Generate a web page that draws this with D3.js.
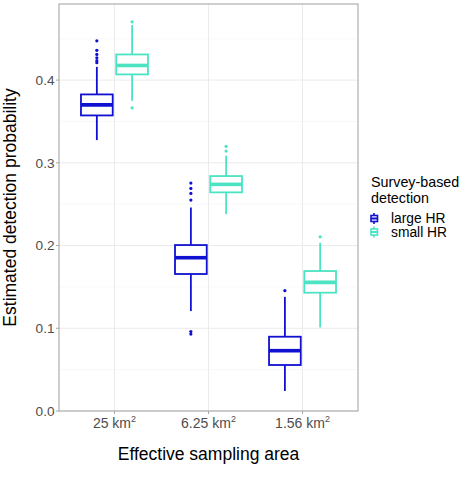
<!DOCTYPE html>
<html lang="en">
<head>
    <meta charset="UTF-8">
    <title>Detection probability</title>
    <style>
        body { margin: 0; background: #fff; }
        text { font-family: "Liberation Sans", Arial, sans-serif; }
    </style>
</head>
<body>
<script src="https://d3js.org/d3.v7.min.js"></script>
<script>
    // categories and groups
    var areas = ["25", "6.25", "1.56"];
    var groups = ["large HR", "small HR"];
    var colors = ["#1010d0", "#4ce3c3"];
    var yTicks = [0, 0.1, 0.2, 0.3, 0.4];

    // box stats per group, one value per area
    var largeLow = [0.3275, 0.1208, 0.0242];
    var largeQ1 = [0.3573, 0.1656, 0.0556];
    var largeMed = [0.3700, 0.1853, 0.0729];
    var largeQ3 = [0.3827, 0.2006, 0.0898];
    var largeHigh = [0.4160, 0.2460, 0.1380];
    var largeOut = [[0.421, 0.4235, 0.427, 0.431, 0.436, 0.4475],
                    [0.093, 0.096, 0.255, 0.263, 0.269, 0.2755],
                    [0.1454]];

    var smallLow = [0.375, 0.238, 0.101];
    var smallQ1 = [0.4069, 0.2643, 0.143];
    var smallMed = [0.4177, 0.2740, 0.1555];
    var smallQ3 = [0.4310, 0.2840, 0.1692];
    var smallHigh = [0.4665, 0.3086, 0.2034];
    var smallOut = [[0.3665, 0.4705], [0.3142, 0.3200], [0.2106]];

    var stats = [
        {low: largeLow, q1: largeQ1, med: largeMed, q3: largeQ3, high: largeHigh, out: largeOut},
        {low: smallLow, q1: smallQ1, med: smallMed, q3: smallQ3, high: smallHigh, out: smallOut}
    ];

    var W = 474, H = 486;
    // panel edges (window.top is reserved, so prefix with p)
    var pLeft = 59, pRight = 358, pTop = 4, pBottom = 411;

    var svg = d3.select("body").append("svg")
        .attr("width", W)
        .attr("height", H);

    var x = d3.scalePoint().domain(areas).range([pLeft, pRight]).padding(0.59);
    var step = x.step();
    var xg = d3.scaleBand().domain(groups).range([-0.375 * step, 0.375 * step]);
    var boxW = xg.bandwidth() * 0.9;
    var y = d3.scaleLinear().domain([0, 0.492]).range([pBottom, pTop]);

    // grid
    var minor = [0.05, 0.15, 0.25, 0.35, 0.45];
    svg.append("g").selectAll("line").data(minor).join("line")
        .attr("x1", pLeft).attr("x2", pRight)
        .attr("y1", d => y(d)).attr("y2", d => y(d))
        .attr("stroke", "#f4f4f4").attr("stroke-width", 0.6);
    svg.append("g").selectAll("line").data(yTicks).join("line")
        .attr("x1", pLeft).attr("x2", pRight)
        .attr("y1", d => y(d)).attr("y2", d => y(d))
        .attr("stroke", "#ebebeb").attr("stroke-width", 1);
    svg.append("g").selectAll("line").data(areas).join("line")
        .attr("x1", d => x(d)).attr("x2", d => x(d))
        .attr("y1", pTop).attr("y2", pBottom)
        .attr("stroke", "#ebebeb").attr("stroke-width", 1);

    // boxes
    groups.forEach(function (g, gi) {
        var s = stats[gi];
        var col = colors[gi];
        var layer = svg.append("g");
        areas.forEach(function (a, ai) {
            var cx = x(a) + xg(g) + xg.bandwidth() / 2;
            layer.append("line")
                .attr("x1", cx).attr("x2", cx)
                .attr("y1", y(s.q3[ai])).attr("y2", y(s.high[ai]))
                .attr("stroke", col).attr("stroke-width", 1.8);
            layer.append("line")
                .attr("x1", cx).attr("x2", cx)
                .attr("y1", y(s.q1[ai])).attr("y2", y(s.low[ai]))
                .attr("stroke", col).attr("stroke-width", 1.8);
            layer.append("rect")
                .attr("x", cx - boxW / 2).attr("width", boxW)
                .attr("y", y(s.q3[ai])).attr("height", y(s.q1[ai]) - y(s.q3[ai]))
                .attr("fill", "#fff")
                .attr("stroke", col).attr("stroke-width", 1.8);
            layer.append("line")
                .attr("x1", cx - boxW / 2).attr("x2", cx + boxW / 2)
                .attr("y1", y(s.med[ai])).attr("y2", y(s.med[ai]))
                .attr("stroke", col).attr("stroke-width", 3.6);
            layer.selectAll(null).data(s.out[ai]).join("circle")
                .attr("cx", cx).attr("cy", d => y(d))
                .attr("r", 1.6).attr("fill", col);
        });
    });

    // panel border
    svg.append("rect")
        .attr("x", pLeft).attr("y", pTop)
        .attr("width", pRight - pLeft).attr("height", pBottom - pTop)
        .attr("fill", "none").attr("stroke", "#a8a8a8").attr("stroke-width", 1.1);

    // y axis
    var yAxis = svg.append("g");
    yAxis.selectAll("line").data(yTicks).join("line")
        .attr("x1", pLeft - 3).attr("x2", pLeft)
        .attr("y1", d => y(d)).attr("y2", d => y(d))
        .attr("stroke", "#a8a8a8");
    yAxis.selectAll("text").data(yTicks).join("text")
        .attr("x", pLeft - 4.5).attr("y", d => y(d))
        .attr("dy", "0.36em")
        .attr("text-anchor", "end")
        .attr("font-size", 13.6)
        .attr("fill", "#4d4d4d")
        .text(d3.format(".1f"));

    // x axis
    var xAxis = svg.append("g");
    xAxis.selectAll("line").data(areas).join("line")
        .attr("x1", d => x(d)).attr("x2", d => x(d))
        .attr("y1", pBottom).attr("y2", pBottom + 3)
        .attr("stroke", "#a8a8a8");
    var xt = xAxis.selectAll("text").data(areas).join("text")
        .attr("x", d => x(d)).attr("y", 428)
        .attr("text-anchor", "middle")
        .attr("font-size", 14)
        .attr("fill", "#4d4d4d");
    xt.append("tspan").text(d => d + " km");
    xt.append("tspan").attr("font-size", 9).attr("dy", -6).text("2");

    // axis titles
    svg.append("text")
        .attr("x", (pLeft + pRight) / 2).attr("y", 460)
        .attr("text-anchor", "middle")
        .attr("font-size", 17.5)
        .attr("fill", "#000")
        .text("Effective sampling area");
    svg.append("text")
        .attr("transform", "translate(16," + ((pTop + pBottom) / 2) + ") rotate(-90)")
        .attr("text-anchor", "middle")
        .attr("font-size", 17.5)
        .attr("fill", "#000")
        .text("Estimated detection probability");

    // legend
    var lg = svg.append("g");
    lg.append("text").attr("x", 371).attr("y", 187)
        .attr("font-size", 14.3).text("Survey-based");
    lg.append("text").attr("x", 371).attr("y", 202.5)
        .attr("font-size", 14.3).text("detection");
    groups.forEach(function (g, gi) {
        var ky = 213 + gi * 13.5;
        var col = colors[gi];
        lg.append("line")
            .attr("x1", 374).attr("x2", 374)
            .attr("y1", ky).attr("y2", ky + 11)
            .attr("stroke", col).attr("stroke-width", 1.6);
        lg.append("rect")
            .attr("x", 371).attr("y", ky + 2.5)
            .attr("width", 6.5).attr("height", 6)
            .attr("fill", "#fff").attr("stroke", col).attr("stroke-width", 1.6);
        lg.append("line")
            .attr("x1", 371).attr("x2", 377.5)
            .attr("y1", ky + 5.5).attr("y2", ky + 5.5)
            .attr("stroke", col).attr("stroke-width", 2);
        lg.append("text")
            .attr("x", 391).attr("y", ky + 10)
            .attr("font-size", 13.8)
            .text(g);
    });
</script>
</body>
</html>
